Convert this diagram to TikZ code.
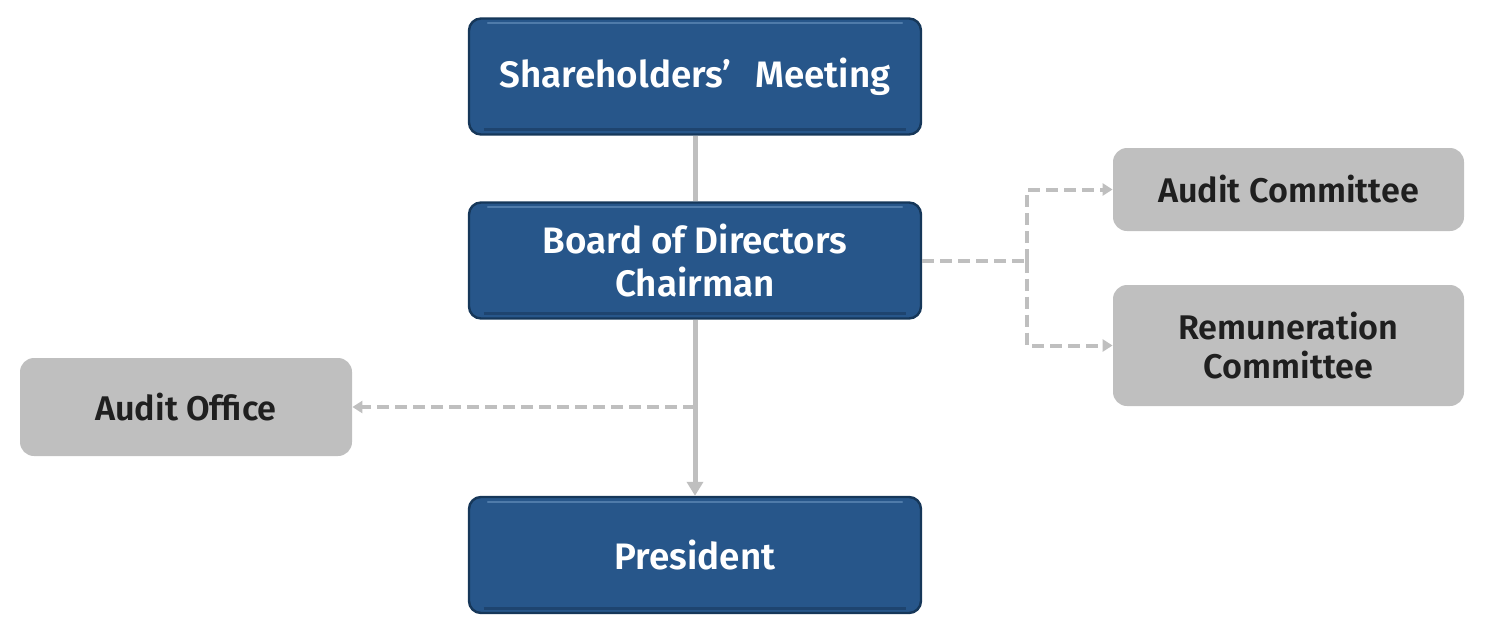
\documentclass[tikz,border=0pt]{standalone}
\usepackage{fontspec}
\setmainfont{Fira Sans}[BoldFont={Fira Sans SemiBold}]
\usetikzlibrary{arrows.meta}
\definecolor{boxblue}{HTML}{27568A}
\definecolor{boxedge}{HTML}{163759}
\definecolor{boxshade}{HTML}{1E446F}
\definecolor{boxhi}{HTML}{4F7BAA}
\definecolor{boxgray}{HTML}{BFBFBF}
\definecolor{linegray}{HTML}{BFBFBF}
\tikzset{
  bluebox/.style={fill=boxblue, draw=boxedge, line width=1.2pt, rounded corners=6pt,
    text=white, font=\bfseries\fontsize{18.4}{21.5}\selectfont, align=center, inner sep=0pt,
    minimum width=226pt, minimum height=58pt},
  graybox/.style={fill=boxgray, draw=none, rounded corners=7pt,
    text=black!88, font=\bfseries\fontsize{17.1}{19.5}\selectfont, align=center, inner sep=0pt},
  hiline/.style={draw=boxhi, line width=1pt, line cap=round},
  solidline/.style={draw=linegray, line width=2.5pt},
  dashline/.style={draw=linegray, line width=2pt, dash pattern=on 6pt off 3pt},
  tip/.style={-{Triangle[length=7pt,width=8pt]}},
  dtip/.style={-{Triangle[length=5pt,width=6pt]}}
}
\begin{document}
\begin{tikzpicture}[x=0.5pt,y=-0.5pt]
\useasboundingbox (0,0) rectangle (1490,632);
\node[bluebox] (sh) at (695,76.5) {Shareholders’\hspace{12pt}Meeting};
\node[bluebox] (bd) at (695,260.5) {Board of Directors\\Chairman};
\node[bluebox] (pr) at (695,555) {President};
\foreach \n in {sh,bd,pr}{
  \draw[hiline] ([shift={(10pt,-3pt)}]\n.north west) -- ([shift={(-10pt,-3pt)}]\n.north east);
  \draw[draw=boxshade, line width=1.6pt] ([shift={(8pt,3pt)}]\n.south west) -- ([shift={(-8pt,3pt)}]\n.south east);
}
\node[graybox, minimum width=175.5pt, minimum height=41.5pt] (ac) at (1288.5,189.5) {Audit Committee};
\node[graybox, minimum width=175.5pt, minimum height=60.5pt] (rc) at (1288.5,345.5) {Remuneration\\Committee};
\node[graybox, minimum width=166pt, minimum height=49pt] (ao) at (186,407) {Audit Office};
\coordinate (j1) at (1027,260.5);
\coordinate (j2) at (695,407);
\draw[solidline] (sh.south) -- (bd.north);
\draw[solidline, tip] (bd.south) -- (pr.north);
\draw[dashline, dtip] (j2) -- (ao.east);
\draw[dashline] (bd.east) -- (j1);
\draw[dashline, dtip] (j1) |- (ac.west);
\draw[dashline, dtip] (j1) |- (rc.west);
\end{tikzpicture}
\end{document}
